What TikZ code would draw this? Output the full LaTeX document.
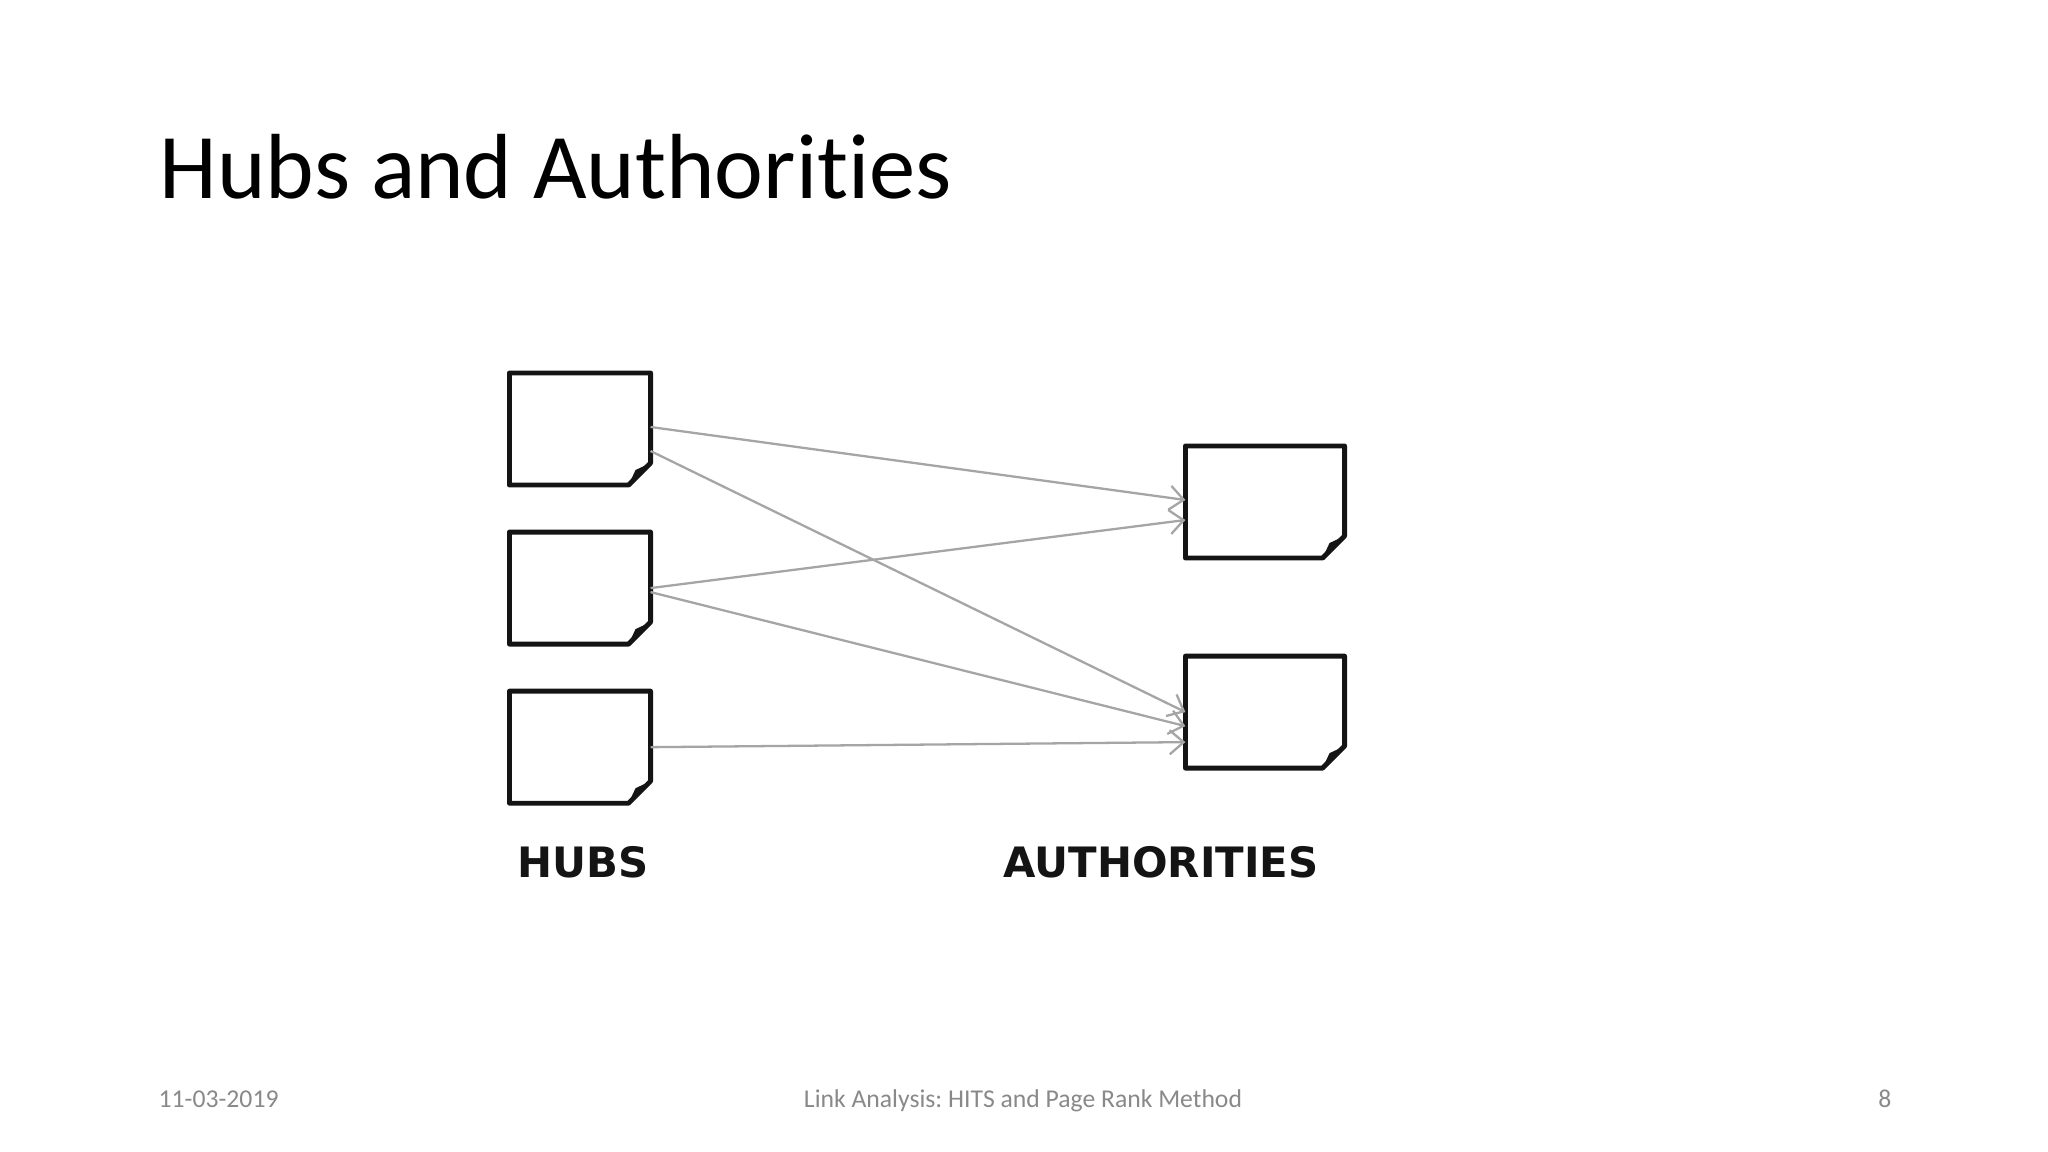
\documentclass[tikz,border=0pt]{standalone}
\usepackage{fontspec}
\setmainfont{Carlito}[Ligatures=NoCommon]
\newfontfamily\labelfont{DejaVu Sans}
\usepackage{tikz}
\usepackage{xcolor}
\usetikzlibrary{
    arrows.meta,
    positioning
}
\frenchspacing
\definecolor{footC}{RGB}{137,137,137}
\definecolor{linkC}{RGB}{165,165,165}
\definecolor{pageC}{RGB}{20,20,20}
\tikzset{
  hubpage/.style  = {draw=none, minimum width=1.41cm, minimum height=1.12cm,
                     inner sep=0pt, outer sep=0pt},
  authpage/.style = {hubpage, minimum width=1.59cm},
  pageline/.style = {pageC, line width=1.4pt, line join=round},
  link/.style     = {-{Straight Barb[length=1.4mm, width=2.4mm]}, linkC,
                     line width=0.65pt},
  grplabel/.style = {font=\labelfont\bfseries\fontsize{11.9pt}{13pt}\selectfont,
                     text=pageC, inner sep=0pt},
  foot/.style     = {font=\fontsize{7.3pt}{9pt}\selectfont, text=footC,
                     inner sep=0pt}
}
\newcommand{\drawpage}[1]{%
  \draw[pageline] (#1.north west) -- (#1.north east)
    -- ([yshift=0.22cm]#1.south east) -- ([xshift=-0.22cm]#1.south east)
    -- (#1.south west) -- cycle;
  \fill[pageC] ([yshift=0.22cm]#1.south east) -- ([xshift=-0.22cm]#1.south east)
    -- ([shift={(-0.15cm,0.15cm)}]#1.south east) -- cycle;
}

\begin{document}
\begin{tikzpicture}[x=0.01cm, y=-0.01cm]
  \useasboundingbox[fill=white] (0,0) rectangle (2048,1152);

  %% ── Title ─────────────────────────────────────────────────────
  \node[anchor=base west, inner sep=0pt,
        font=\fontsize{26.3pt}{32pt}\selectfont] (title) at (159,199)
    {Hubs and Authorities};

  %% ── Pages ─────────────────────────────────────────────────────
  \node[hubpage] (h1) at (580,429) {};
  \node[hubpage, below=0.47cm of h1] (h2) {};
  \node[hubpage, below=0.47cm of h2] (h3) {};
  \node[authpage] (a1) at (1265,502) {};
  \node[authpage, below=0.98cm of a1] (a2) {};
  \foreach \p in {h1,h2,h3,a1,a2} {\drawpage{\p}}

  %% ── Links ─────────────────────────────────────────────────────
  \draw[link] ([yshift=0.02cm]h1.east)  -- ([yshift=0.02cm]a1.west);
  \draw[link] ([yshift=-0.22cm]h1.east) -- (a2.west);
  \draw[link] (h2.east)                 -- ([yshift=-0.18cm]a1.west);
  \draw[link] ([yshift=-0.04cm]h2.east) -- ([yshift=-0.14cm]a2.west);
  \draw[link] (h3.east)                 -- ([yshift=-0.30cm]a2.west);

  %% ── Group labels ──────────────────────────────────────────────
  \node[grplabel] (hubs) at (583,862) {HUBS};
  \node[grplabel] (auths) at (1161,862) {AUTHORITIES};

  %% ── Footer ────────────────────────────────────────────────────
  \node[foot, anchor=base west] (date) at (158,1107) {11-03-2019};
  \node[foot, anchor=base] (topic) at (1023,1107)
    {Link Analysis: HITS and Page Rank Method};
  \node[foot, anchor=base east] (pagenum) at (1892,1107) {8};

\end{tikzpicture}
\end{document}
